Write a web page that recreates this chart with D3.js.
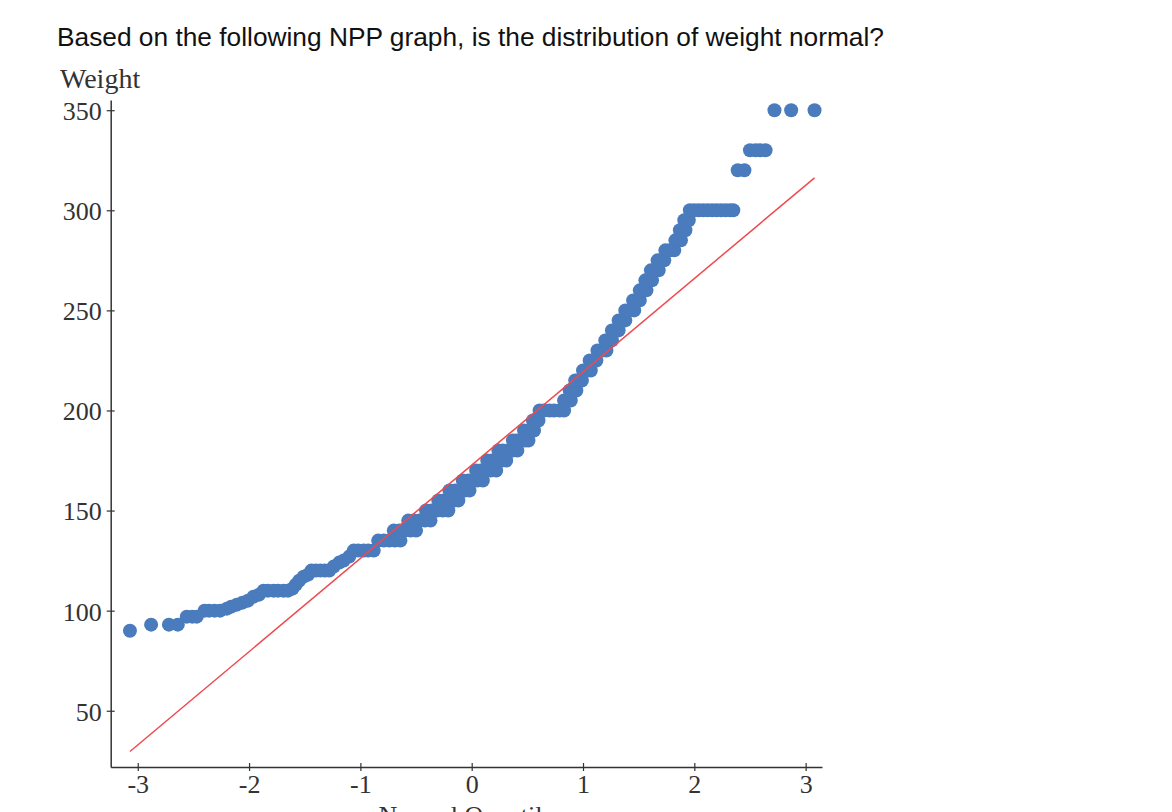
<!DOCTYPE html>
<html lang="en">
<head>
<meta charset="UTF-8">
<title>NPP of Weight</title>
<script src="https://d3js.org/d3.v7.min.js"></script>
<style>
    body {
        margin: 0;
        background: #fff;
    }
    .title {
        font-family: "Liberation Sans", Arial, sans-serif;
        font-size: 26.3px;
        fill: #111;
    }
    .axis-text {
        font-family: "Liberation Serif", "Times New Roman", serif;
        font-size: 26px;
        fill: #333;
    }
</style>
</head>
<body>
<div id="chart"></div>
<script>
    // normal quantiles (x) and weights (y), lowest first.
    // the thick part of the band is read as runs of dots per weight level
    const quantiles = [
        -3.07, -2.88, -2.72, -2.64, -2.56, -2.51, -2.47, -2.40, -2.36, -2.31, -2.26, -2.20, -2.16, -2.11, -2.06, -2.01, -1.96, -1.91,
        -1.87, -1.83, -1.78, -1.74, -1.69, -1.65, -1.61, -1.58, -1.55, -1.51, -1.47,
        -1.44, -1.40, -1.36, -1.32, -1.28, -1.24, -1.19, -1.15, -1.10,
        -1.06, -1.02, -0.97, -0.93, -0.88,
        -0.84, -0.79, -0.74, -0.69, -0.64,
        -0.70, -0.65, -0.60, -0.55, -0.50,
        -0.57, -0.52, -0.47, -0.42, -0.37,
        -0.41, -0.36, -0.31, -0.26, -0.21,
        -0.30, -0.25, -0.21, -0.16, -0.12,
        -0.20, -0.15, -0.11, -0.06, -0.02,
        -0.08, -0.03, 0.01, 0.05, 0.10,
        0.04, 0.08, 0.13, 0.17, 0.22,
        0.14, 0.18, 0.225, 0.27, 0.31,
        0.24, 0.28, 0.33, 0.37, 0.41,
        0.37, 0.40, 0.44, 0.48, 0.51,
        0.47, 0.515, 0.56,
        0.55, 0.575, 0.60,
        0.61, 0.65, 0.70, 0.74, 0.79, 0.83,
        0.83, 0.86, 0.89,
        0.88, 0.91, 0.94,
        0.93, 0.96, 0.99,
        1.00, 1.035, 1.07,
        1.06, 1.09, 1.12,
        1.13, 1.17, 1.21,
        1.20, 1.23, 1.26,
        1.26, 1.29, 1.32,
        1.32, 1.35, 1.38,
        1.38, 1.42, 1.46,
        1.45, 1.48, 1.51,
        1.51, 1.54, 1.57,
        1.56, 1.59, 1.62,
        1.61, 1.645, 1.68,
        1.67, 1.70, 1.73,
        1.74, 1.78, 1.82,
        1.83, 1.855, 1.88,
        1.87, 1.895, 1.92,
        1.91, 1.93, 1.95,
        1.96, 2.00, 2.04, 2.08, 2.12, 2.16, 2.20, 2.24, 2.28, 2.32, 2.35,
        2.39, 2.45,
        2.50, 2.55, 2.59, 2.64,
        2.72, 2.87, 3.08
    ];
    const weights = [
        90, 93, 93, 93, 97, 97, 97, 100, 100, 100, 100, 101, 102, 103, 104, 105, 107, 108,
        110, 110, 110, 110, 110, 110, 111, 113, 115, 117, 118,
        120, 120, 120, 120, 120, 122, 124, 125, 127,
        130, 130, 130, 130, 130,
        135, 135, 135, 135, 135,
        140, 140, 140, 140, 140,
        145, 145, 145, 145, 145,
        150, 150, 150, 150, 150,
        155, 155, 155, 155, 155,
        160, 160, 160, 160, 160,
        165, 165, 165, 165, 165,
        170, 170, 170, 170, 170,
        175, 175, 175, 175, 175,
        180, 180, 180, 180, 180,
        185, 185, 185, 185, 185,
        190, 190, 190,
        195, 195, 195,
        200, 200, 200, 200, 200, 200,
        205, 205, 205,
        210, 210, 210,
        215, 215, 215,
        220, 220, 220,
        225, 225, 225,
        230, 230, 230,
        235, 235, 235,
        240, 240, 240,
        245, 245, 245,
        250, 250, 250,
        255, 255, 255,
        260, 260, 260,
        265, 265, 265,
        270, 270, 270,
        275, 275, 275,
        280, 280, 280,
        285, 285, 285,
        290, 290, 290,
        295, 295, 295,
        300, 300, 300, 300, 300, 300, 300, 300, 300, 300, 300,
        320, 320,
        330, 330, 330, 330,
        350, 350, 350
    ];

    // reference line (mean + sd * z)
    const lineIntercept = 172.7;
    const lineSlope = 46.6;

    const xTicks = [-3, -2, -1, 0, 1, 2, 3];
    const yTicks = [50, 100, 150, 200, 250, 300, 350];

    const width = 1172, height = 812;
    const plot = { left: 110.7, right: 822, top: 100, bottom: 767 };

    const svg = d3.select("#chart")
        .append("svg")
        .attr("width", width)
        .attr("height", height);

    svg.append("text")
        .attr("class", "title")
        .attr("x", 57)
        .attr("y", 46)
        .text("Based on the following NPP graph, is the distribution of weight normal?");

    const x = d3.scaleLinear()
        .domain([-3.243, 3.147])
        .range([plot.left, plot.right]);

    const y = d3.scaleLinear()
        .domain([21.9, 355.1])
        .range([plot.bottom, plot.top]);

    // axes
    const xAxis = svg.append("g")
        .attr("transform", `translate(0,${plot.bottom})`)
        .call(d3.axisBottom(x).tickValues(xTicks).tickSizeInner(4).tickSizeOuter(0)
            .tickFormat(d => d < 0 ? "-" + Math.abs(d) : d));
    xAxis.select(".domain").attr("stroke", "#333").attr("stroke-width", 1.5);
    xAxis.selectAll(".tick line").attr("y1", -4).attr("stroke", "#333").attr("stroke-width", 1.2);
    xAxis.selectAll(".tick text")
        .attr("class", "axis-text")
        .attr("y", 8)
        .attr("dy", "0.71em");

    const yAxis = svg.append("g")
        .attr("transform", `translate(${plot.left},0)`)
        .call(d3.axisLeft(y).tickValues(yTicks).tickSizeInner(4).tickSizeOuter(0));
    yAxis.select(".domain").attr("stroke", "#333").attr("stroke-width", 1.5);
    yAxis.selectAll(".tick line").attr("x1", 4).attr("x2", -4).attr("stroke", "#333").attr("stroke-width", 1.2);
    yAxis.selectAll(".tick text")
        .attr("class", "axis-text")
        .attr("x", -9)
        .attr("dy", "0.36em");

    svg.append("text")
        .attr("class", "axis-text")
        .attr("x", 60)
        .attr("y", 88)
        .style("font-size", "28px")
        .text("Weight");

    svg.append("text")
        .attr("class", "axis-text")
        .attr("x", (plot.left + plot.right) / 2)
        .attr("y", 824)
        .attr("text-anchor", "middle")
        .text("Normal Quantile");

    // points
    const points = quantiles.map((q, i) => ({ q: q, w: weights[i] }));
    svg.append("g")
        .selectAll("circle")
        .data(points)
        .enter()
        .append("circle")
        .attr("cx", d => x(d.q))
        .attr("cy", d => y(d.w))
        .attr("r", 7)
        .attr("fill", "#4a7bbd");

    // reference line across the range of the points
    const zMin = d3.min(quantiles), zMax = d3.max(quantiles);
    svg.append("line")
        .attr("x1", x(zMin))
        .attr("y1", y(lineIntercept + lineSlope * zMin))
        .attr("x2", x(zMax))
        .attr("y2", y(lineIntercept + lineSlope * zMax))
        .attr("stroke", "#ee4a4f")
        .attr("stroke-width", 1.5);
</script>
</body>
</html>
